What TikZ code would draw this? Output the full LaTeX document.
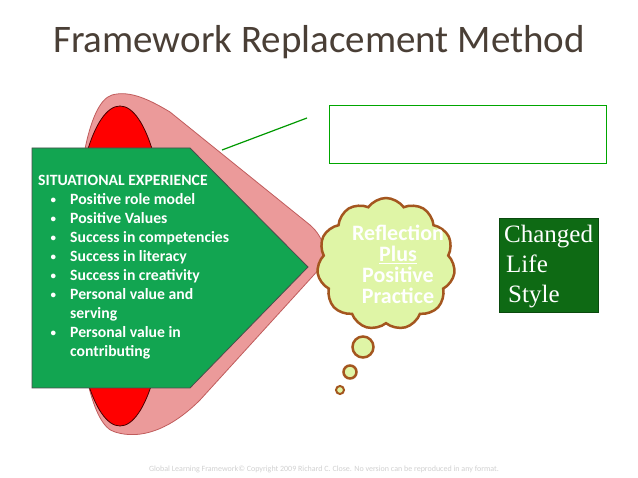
\documentclass[tikz,border=0pt]{standalone}
\usepackage{fontspec}
\setmainfont{Carlito}
\newfontfamily\serifx{Liberation Serif}
\usetikzlibrary{shapes.symbols}
\definecolor{pinkf}{HTML}{EB9A9A}
\definecolor{pinkd}{HTML}{C05C5C}
\definecolor{gfill}{HTML}{12A551}
\definecolor{dgreen}{HTML}{0E6A14}
\definecolor{lgreen}{HTML}{DFF5A6}
\definecolor{brownb}{HTML}{A4561F}
\definecolor{titlec}{HTML}{4A3F36}
\tikzset{bubble/.style={circle,draw=brownb,line width=2.5pt,fill=lgreen,inner sep=0pt}}
\begin{document}
\begin{tikzpicture}[x=1pt,y=-1pt]
\useasboundingbox[fill=white] (0,0) rectangle (638,478);
\node (title) at (319,42) {\fontsize{39}{44}\selectfont\color{titlec}Framework Replacement Method};
% funnel
\draw[pinkd,fill=pinkf,line width=0.8pt] (112,95) .. controls (130,90) and (150,100) .. (170,112)
  -- (310,225) .. controls (325,238) and (327,255) .. (322,266)
  -- (200,400) .. controls (170,430) and (140,440) .. (115,432)
  .. controls (65,420) and (62,110) .. (112,95) -- cycle;
\draw[fill=red,draw=black!70!red,line width=0.8pt] (120,266) ellipse (47 and 160);
% pentagon
\node[coordinate] (p1) at (32,148) {};
\draw[fill=gfill,draw=black!70,line width=0.8pt] (p1) -- (190,148) -- (308,267) -- (190,388) -- (32,388) -- cycle;
\node[anchor=north west,text=white,align=left,font=\bfseries\fontsize{15.7}{19}\selectfont,inner sep=0pt] (list) at (38,175) {SITUATIONAL EXPERIENCE\\[0pt]
\begin{minipage}[t]{250pt}\raggedright
\begin{list}{\raisebox{1pt}{\scalebox{0.7}{\textbullet}}}{\leftmargin=32pt\labelsep=14pt\labelwidth=10pt\itemsep=0pt\parsep=0pt\topsep=0pt}
\item Positive role model
\item Positive Values
\item Success in competencies
\item Success in literacy
\item Success in creativity
\item Personal value and\\serving
\item Personal value in\\contributing
\end{list}\end{minipage}};
% green line and box
\coordinate (l1) at (222,150);
\coordinate (l2) at (307,118);
\draw[green!60!black,line width=1.2pt] (l1) -- (l2);
\node[draw=green!65!black,line width=1.2pt,fill=white,minimum width=277pt,minimum height=58pt,anchor=north west] (gbox) at (329,105) {};
% cloud
\node[cloud,cloud puffs=11,cloud puff arc=110,aspect=1.1,draw=brownb,line width=2.5pt,fill=lgreen,minimum width=138pt,minimum height=132pt] (cloud) at (386,264) {};
\node[text=white,font=\bfseries\fontsize{22}{21}\selectfont,align=center] (ctext) at (398,264) {Reflection\\\underline{Plus}\\Positive\\Practice};
\node[bubble,minimum size=21pt] (b1) at (363,347) {};
\node[bubble,minimum size=13pt] (b2) at (350,372) {};
\node[bubble,minimum size=8pt,line width=2pt] (b3) at (340,390) {};
% changed box
\node[fill=dgreen,draw=dgreen!70!black,minimum width=99pt,minimum height=94pt,anchor=north west] (cbox) at (499,218) {};
\node[text=white,font=\serifx\fontsize{25}{30}\selectfont,align=left,anchor=north west,inner sep=0pt] (ctxt) at (504,225) {Changed\\\hspace{2pt}Life\\\hspace{4pt}Style};
\node[text=black!18,font=\fontsize{8}{9}\selectfont] (foot) at (324,469) {Global Learning Framework© Copyright 2009 Richard C. Close. No version can be reproduced in any format.};
\end{tikzpicture}
\end{document}
